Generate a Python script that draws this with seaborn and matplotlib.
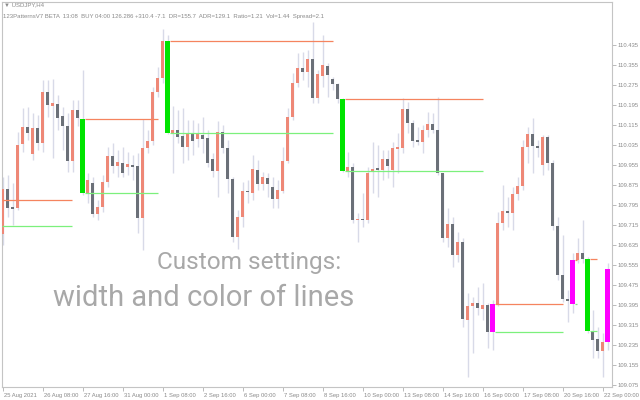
import numpy as np
import matplotlib
matplotlib.use("Agg")
import matplotlib.pyplot as plt
import matplotlib.transforms as mtransforms
import seaborn as sns

# =========================
# USDJPY H4 bars
# =========================
opens = [
    109.679, 109.859, 109.788, 109.783, 110.039, 110.107, 109.999, 110.103, 110.043, 110.247,
    110.191, 110.199, 110.151, 110.111, 109.971, 110.175, 110.139, 109.844, 109.883, 109.759,
    109.787, 109.887, 109.991, 109.951, 109.963, 109.947, 109.956, 109.951, 109.744, 110.023,
    110.051, 110.247, 110.303, 110.450, 110.084, 110.095, 110.071, 110.028, 110.084, 110.058,
    110.076, 110.062, 109.978, 109.931, 110.088, 110.022, 109.898, 109.666, 109.746, 109.852,
    109.844, 109.935, 109.878, 109.902, 109.868, 109.819, 109.852, 109.972, 110.146, 110.284,
    110.344, 110.326, 110.379, 110.224, 110.312, 110.352, 110.299, 110.278, 110.218, 109.932,
    109.946, 109.734, 109.739, 109.734, 109.930, 109.940, 109.936, 109.979, 109.935, 110.020,
    110.023, 110.179, 110.122, 110.055, 110.047, 110.095, 110.119, 110.095, 109.922, 109.662,
    109.719, 109.595, 109.648, 109.335, 109.391, 109.402, 109.380, 109.395, 109.288, 109.398,
    109.722, 109.771, 109.764, 109.839, 109.872, 110.028, 110.079, 110.032, 109.955, 110.068,
    109.964, 109.711, 109.515, 109.419, 109.398, 109.575, 109.602, 109.578, 109.292, 109.258,
    109.212, 109.246,
]
highs = [
    109.907, 109.915, 109.883, 110.087, 110.183, 110.187, 110.163, 110.155, 110.295, 110.295,
    110.299, 110.235, 110.187, 110.163, 110.215, 110.215, 110.335, 109.923, 109.907, 109.815,
    109.915, 110.027, 110.043, 110.015, 110.027, 110.007, 109.995, 110.003, 110.139, 110.095,
    110.267, 110.347, 110.499, 110.475, 110.191, 110.175, 110.183, 110.135, 110.135, 110.123,
    110.147, 110.095, 110.003, 110.132, 110.115, 110.055, 109.908, 109.775, 109.888, 109.895,
    109.995, 109.975, 109.928, 109.923, 109.908, 109.895, 110.028, 110.182, 110.323, 110.403,
    110.408, 110.415, 110.528, 110.335, 110.475, 110.362, 110.308, 110.283, 110.223, 110.008,
    109.963, 109.763, 109.843, 109.948, 110.048, 110.035, 110.015, 110.015, 110.048, 110.083,
    110.222, 110.208, 110.135, 110.108, 110.115, 110.168, 110.163, 110.228, 109.923, 109.782,
    109.748, 109.688, 109.662, 109.442, 109.428, 109.468, 109.482, 109.402, 109.415, 109.768,
    109.875, 109.828, 109.868, 109.908, 110.055, 110.108, 110.143, 110.055, 110.075, 110.075,
    109.975, 109.748, 109.675, 109.455, 109.603, 109.662, 109.735, 109.588, 109.375, 109.308,
    109.282, 109.563,
]
lows = [
    109.635, 109.747, 109.715, 109.775, 110.007, 110.055, 109.975, 110.015, 110.007, 110.147,
    109.983, 110.095, 110.015, 109.927, 109.927, 110.111, 109.835, 109.803, 109.747, 109.735,
    109.767, 109.867, 109.923, 109.907, 109.907, 109.915, 109.895, 109.683, 109.615, 110.003,
    110.035, 110.227, 110.283, 110.079, 109.924, 110.043, 109.963, 109.975, 109.995, 110.027,
    110.003, 109.947, 109.907, 109.828, 110.003, 109.843, 109.647, 109.619, 109.708, 109.803,
    109.815, 109.855, 109.855, 109.828, 109.782, 109.783, 109.842, 109.962, 110.135, 110.268,
    110.295, 110.268, 110.202, 110.202, 110.268, 110.228, 110.255, 110.203, 109.927, 109.908,
    109.723, 109.648, 109.707, 109.723, 109.843, 109.828, 109.895, 109.903, 109.868, 109.923,
    110.002, 110.082, 110.028, 110.035, 110.002, 110.068, 110.083, 109.915, 109.648, 109.628,
    109.548, 109.568, 109.308, 109.108, 109.202, 109.355, 109.335, 109.222, 109.215, 109.391,
    109.695, 109.708, 109.695, 109.815, 109.855, 109.962, 109.922, 109.988, 109.915, 109.935,
    109.695, 109.495, 109.408, 109.328, 109.363, 109.562, 109.562, 109.282, 109.182, 109.182,
    109.108, 109.215,
]
closes = [
    109.859, 109.783, 109.779, 110.035, 110.107, 110.083, 110.103, 110.043, 110.247, 110.195,
    110.203, 110.143, 110.111, 109.971, 110.175, 110.143, 109.844, 109.895, 109.759, 109.787,
    109.887, 109.991, 109.951, 109.967, 109.923, 109.959, 109.947, 109.744, 110.023, 110.051,
    110.247, 110.303, 110.451, 110.084, 110.095, 110.068, 110.028, 110.084, 110.052, 110.079,
    110.058, 109.964, 109.931, 110.088, 110.022, 109.898, 109.666, 109.748, 109.852, 109.846,
    109.938, 109.878, 109.906, 109.878, 109.819, 109.855, 109.972, 110.146, 110.284, 110.344,
    110.326, 110.379, 110.224, 110.319, 110.355, 110.315, 110.279, 110.218, 109.932, 109.948,
    109.735, 109.740, 109.735, 109.924, 109.940, 109.936, 109.979, 109.951, 110.022, 110.026,
    110.179, 110.122, 110.052, 110.047, 110.095, 110.119, 110.095, 109.922, 109.662, 109.719,
    109.595, 109.648, 109.338, 109.392, 109.402, 109.382, 109.394, 109.288, 109.398, 109.722,
    109.771, 109.764, 109.839, 109.872, 110.028, 110.079, 110.031, 110.023, 110.068, 109.964,
    109.711, 109.515, 109.419, 109.412, 109.575, 109.602, 109.578, 109.292, 109.255, 109.212,
    109.248, 109.538,
]

# bars painted by the pattern indicator
green_bars = [16, 33, 68, 117]
magenta_bars = [98, 114, 121]

# pattern levels: start bar, end bar, upper level, lower level
pat_start = [-1, 16, 33, 68, 98, 114, 117]
pat_end = [13.9, 31, 66, 96, 112, 114.8, 118.8]
pat_upper = [109.815, 110.139, 110.450, 110.218, 109.399, 109.575, 109.578]
pat_lower = [109.712, 109.844, 110.084, 109.932, 109.288, 109.398, 109.292]

x_labels = ['25 Aug 2021', '26 Aug 08:00', '27 Aug 16:00', '31 Aug 00:00', '1 Sep 08:00',
            '2 Sep 16:00', '6 Sep 00:00', '7 Sep 08:00', '8 Sep 16:00', '10 Sep 00:00',
            '13 Sep 08:00', '14 Sep 16:00', '16 Sep 00:00', '17 Sep 08:00', '20 Sep 16:00',
            '22 Sep 00:00']
y_ticks = np.round(110.435 - 0.08 * np.arange(18), 3)

# =========================
# Style
# =========================
sns.set_theme(style="white")
plt.rcParams['font.family'] = ['Liberation Sans', 'DejaVu Sans']

C_UP = '#EE8877'
C_DN = '#6B7078'
C_WICK = '#D8DAE8'
C_GREEN = '#00E400'
C_MAG = '#FF00FF'
C_HI = '#F5845F'
C_LO = '#7CF07C'
C_TXT = '#8A8A8A'

fig = plt.figure(figsize=(6.4, 4.0), dpi=100)
ax = fig.add_axes([2 / 640, 1 - 387 / 400, 610 / 640, 385 / 400])

n = len(opens)
xs = np.arange(n)
o = np.array(opens)
c = np.array(closes)

# wicks
ax.vlines(xs, lows, highs, color=C_WICK, lw=1.0, zorder=1)

# bodies
colors = [C_UP if c[i] >= o[i] else C_DN for i in range(n)]
for i in green_bars:
    colors[i] = C_GREEN
for i in magenta_bars:
    colors[i] = C_MAG
bottom = np.minimum(o, c)
height = np.maximum(np.abs(c - o), 0.005)
widths = [0.86 if (i in green_bars or i in magenta_bars) else 0.74 for i in range(n)]
ax.bar(xs, height, bottom=bottom, width=widths, color=colors, linewidth=0, zorder=3)

# pattern levels
for s, e, hi, lo in zip(pat_start, pat_end, pat_upper, pat_lower):
    x0 = s + 0.4 if s >= 0 else -0.2
    ax.hlines(hi, x0, e, color=C_HI, lw=0.9, zorder=4)
    ax.hlines(lo, x0, e, color=C_LO, lw=0.9, zorder=4)

ax.set_xlim(-0.1, 121.9)
ax.set_ylim(109.067, 110.607)

# axes
ax.set_xticks(np.arange(0, 121, 8))
ax.set_xticklabels(x_labels)
ax.yaxis.tick_right()
ax.set_yticks(y_ticks)
ax.set_yticklabels([f'{v:.3f}' for v in y_ticks])
ax.tick_params(axis='both', labelsize=4.2, colors='#B0B0B0', labelcolor=C_TXT,
               length=3, width=0.6, pad=1.2, direction='out')
ax.tick_params(axis='x', bottom=True)
ax.tick_params(axis='y', right=True)
offset = mtransforms.ScaledTranslation(1.2 / 72, 0, fig.dpi_scale_trans)
for lab in ax.get_xticklabels():
    lab.set_horizontalalignment('left')
    lab.set_transform(lab.get_transform() + offset)
for sp in ax.spines.values():
    sp.set_color('#C4C4C4')
    sp.set_linewidth(0.8)
ax.grid(False)

# header
fig.text(4 / 640, 1 - 5 / 400, '\u25bc USDJPY,H4', fontsize=4.3, color=C_TXT, va='center')
fig.text(3 / 640, 1 - 16.5 / 400,
         '123PatternsV7 BETA  13:08  BUY 04:00 126.286 +310.4 -7.1  DR=155.7  ADR=129.1  '
         'Ratio=1.21  Vol=1.44  Spread=2.1',
         fontsize=4.3, color=C_TXT, va='center')

# caption
fig.text(157 / 640, 1 - 262 / 400, 'Custom settings:', fontsize=17.6, color='#A8A8A8',
         va='center', ha='left', family='Roboto')
fig.text(53 / 640, 1 - 298 / 400, 'width and color of lines', fontsize=21, color='#A8A8A8',
         va='center', ha='left', family='Roboto')

fig.savefig('out.png', dpi=100)
